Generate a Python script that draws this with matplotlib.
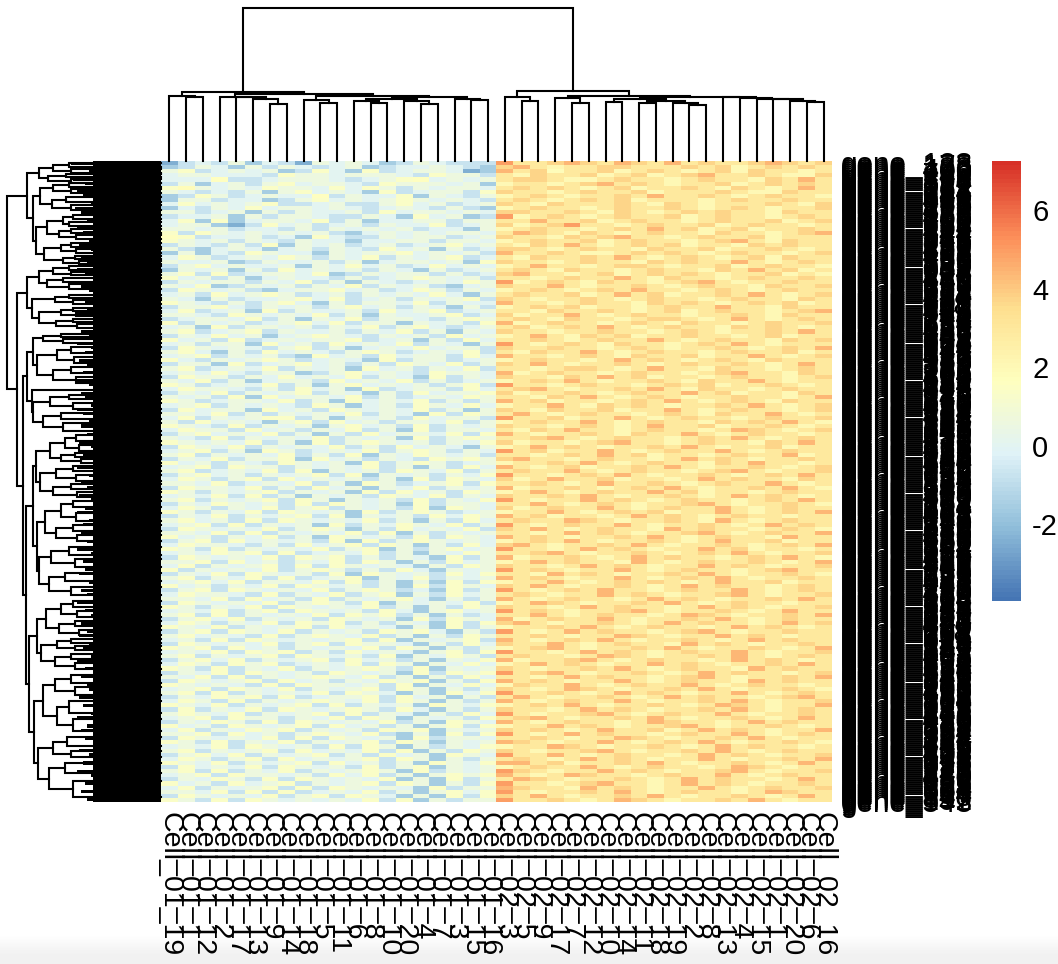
import matplotlib
matplotlib.use("Agg")
import matplotlib.pyplot as plt
import numpy as np
from matplotlib.colors import LinearSegmentedColormap, Normalize

plt.rcParams["font.family"] = ["Liberation Sans", "DejaVu Sans"]

W, H = 1058, 964

# one hex char per cell, looked up in levels
levels = [-2.8, -2.4, -1.6, -0.8, 0.0, 0.6, 1.4, 1.6, 1.8, 2.2, 2.0, 2.9, 3.7, 4.4, 4.9, 5.6]

# left 20 columns
rows_left = [
"13435243154542354333","23542535434523445432","56345452364263455412","45544436554555436553",
"44473345554345674545","35245356455436555452","68545465546465354554","54343525645426345536",
"23653454473544625435","25534423564545654543","46454563345335645345","24354645545434543532",
"55345253544536455454","34452535543354264523","46262455463524455355","45521364534535446345",
"55453443535454534425","63654545453245454554","76344534264335455345","65453543544244553554",
"35435362545345345645","53245424535436452534","25243654425455645453","46534546535463545634",
"54452354453524554526","35645445254645346454","25452536454535425345","56363455462354553534",
"64535245443534565453","35455354635254345465","54623545354635453245","36545324556453465354",
"45364565345354546425","54253445646345354563","65435356425355463544","35564354535645354253",
"46345263544536456345","55436545463525445634","34554635254635543565","63545345646355254536",
"45263554535463564345","56345635445354635254","35464524565435453645","64536345455634525364",
"45355264536454635425","36545435635245464553","56425364543565345463","45635453264536455364",
"64354565345426355345","35526345645353654635","56345463545264535463","45464355235645436554",
"36553546454635426354","54635245536454635345","65345463525645453563","46554353645263455364",
"35463545635425364556","54536264554635345465","65345546352645463535","45635454365245365464",
"36455264536545463525","55463535454635426365","46354566352545364553","53645425636453554635",
"65436354525645363545","46553645354635263554","35645463525364554636","54363545463545263565",
"65454635263565453546","36546354546353645425","45635265345463565354","56354546353625465453",
"35463556264535436565","64535436545263565345","45636553545463525364","56345463625453654635",
"35645354563625453546","46535636454535263654","55463454635265345636","36554635364525463545",
"65354563545263645365","45463635254536546354","56354563652545363546","35465453636545263554",
"46535463563545362654","65354636545263565345","35463545636254536465","56453636545463525364",
"45636354526354654635","36545463565253645463","55463635454636253545","64535463526545363654",
"35636454536263565454","46554353645636525364","65363545463562535645","45465636345463525465",
"36545463656353542635","55636453546365253645","46354563636545425365","63545463565353642545",
"35463654536265453646","56354636345625463545","45646355463635252636","64535463654535263654",
"35636545463565342635","46554363546356253645","55463645363545642535","36545463565362545463",
"65354636545463525365","45463563654536425645","56363545463656352534","35646354536545263654",
"46535463656353542636","65463545636454252635","35636546354536564253","56454363565463525365",
"45363654545636254563","36545463563655425364","65636453545463652535","45463656353645425636",
"56354563654536254653","35646354563645352546","46536563454636525464","65363546354565362545",
"35463654536545263656","54636354565463525364","36545636453546562536","65454363655453625464",
"45636546354563652535","56363545463654252646","35465636345563645253","46536354565463652535",
"65463545636354526546","36354636545653642535","56546354563635425364","45636553546365254536",
"35465363654546352654","64536545636453525636","46354656354536562545","55636453565463252636",
"36545463636545263554","65363546354563652545","45463654536365253546","56354563645463625365",
"35646354563536452654","46535636454563652535","65463545636453526546","36454636545363562545",
"56363546354565263545","45636554536463525656","35465363654546252635","64536456354563652536",
"46354563636545426355","55463636345463525646","36545463563654252636","65363654545463625355",
]

# right 20 columns
rows_right = [
"ebbcdcbdcbdbcbbcdcbc","cdb9bbccbbbcbcabcbcb","dbc8bbcabcbabcacbbab","bacbbcabcabcdbbcbaac",
"bccbaabcbbabcbbacbdb","abbabcdbcbabbcabcbcb","bcbcbabcabbcbacbabdb","cbbabcbbcabbbcbaacbb",
"abcbabbcbdbbcbabcbba","bcbabcbcabbbabcbbcbb","cbacbbbcbacbabbbcbac","abcbbabcbbcbabcbabbc",
"ccbbcbacbabcbcbbacbb","eabcbabcbbcabcbbabcb","bbdbbcabcbbabcbbcabc","cabcebbabcbbcabcbbab",
"abcbbabcbdbcabcabbcb","bdcbacbabcbbacbbabcd","cbbacbcdbbabcbbcabbb","abcbbcabcbbabcdbacbb",
"bacbdbabcbcabbacbcbb","ccbabcbbacbbcabbcbab","dbbcbaabcbcbabcbbabc","bacbbcbdbabcbabcacbb",
"cbbabcbbacbcbbdbabcb","abdbbabccbabbcabcbba","bcbacbbabcbbacbdbcab","cdbbabcabcbcbabbcaba",
"bbabcbbdbacbbabcbbcb","eabcbacbbabcdbabbcbb","cbbdbabbcbabcbbacbbc","abcbabcbdbbabcbabcbb",
"bcbbcabdbcabbcbdbabc","cbabbcbabcbbabcbbacb","dbbabcbbacbcbabcbcab","abcbcabbabcbbdbbacbb",
"bbacbbcbabcabcbbabcd","cabbdbabcbbabbcbacbb","bcbacbbabccbabdbabcb","dabcbbabcbacbbabcbbc",
"bcabcbdbabcbbacbcbab","cbbabbcbbabcbabbcbdb","abdbacbcabbcbbabcabb","bbcbabcbbdbabcbbacbc",
"ebabcbacbbabcbdbabbb","cbbcbbabcbabbcbabcbd","bacbbdbabcbbabcbbcab","dbbabcbacbbcabbdbabc",
"abcbbabdbcbabcbacbbb","cbdbabbcbabcbbcbabdb","bbabccbabdbbacbbabcb","dabcbbabcbbabcdbbacb",
"cbbacbdbcabbabcbbabc","abcbdbabbcbacbbdbabb","ebbabcbbabcbcabbcbab","bcdbabbcbdbacbbabcbb",
"cabbcbabcbbdbcabbacb","bbacbdbabcbabbcbbabd","dbcabbabcbdbabcbacbb","abbdbacbcbabbcbdbabc",
"cbacbbcabbdbabcbbabc","bdbabcbbabcbacbbdbab","ebbcabbdbabcbbabcbbc","abcbbdbabcbbacbcbdba",
"cbbabcbabdbbcabbcbab","bacbdbbabcbbabdcbabc","dbabbcbacbbdbabcbbab","bbcdbabcbbabcbdbabcb",
"cabbabcdbbabcbbacbdb","abdbcbabbcbdbabbcabb","ebcabbdbabcbbdbabcbb","bbabcbdbcabbabcbbdab",
"cdbbabcbbabdbcbabbcb","abbcbdbabcbbacbdbbab","dbabcabbcbdbabbcbabc","bcbbdbabcbbabcdbabbc",
"ebbabcbdbabbcbabcbdb","cabdbbcabbabdbcbbacb","bbcbabdbbcbabcbbdbab","dabbcbabcbdbabbcbdba",
"abdbabcbbdbcabbabcbb","cbbcbdbabbcbabdbcbab","ebabbdbcbabcbbabcbdb","bbdbabcbabbcdbabbcba",
"cabcbbdbabcbbdbabcbb","abbdbabcbcabbdbabcbd","dbcabbabdbcbabcbbabb","bcbbdcbabbcbadbabcbb",
"ebabcbbdbabbcbabdbcb","cbdbabcbbadbcbbabcba","bbabdbcbabbcdbabcbbd","dbcbabbcbdbabcbbadbb",
"abcbdbabbcbabdbbcabb","cdbabbcbdbabbcbabcbd","ebbabdbcbabbdbcabbab","bbcdbabbcbabcbdbabbc",
"dabbcbabdbcbbabcbdba","abdbcbbadbabcbbcbabd","cbbabdbcbabbdbcbabbc","ebcbabbdbabcbbabcdbb",
"bbadbcbabbcbdbabbcba","dbcbabbdbabcbdbabbcb","abbdbabcbcbabdbbcabb","cbdbabbcbabdbcbbabcb",
"ebabcbdbbabcbbdbabcb","bcbabbdbcbabbcdbabbc","dbabcbbabdbcbabbcbdb","abdcbabbcbdbabcbbabb",
"cbbabdbcbbabdbcbabbc","ebcbabbcdbabbcbabdbb","bbdbabcbbabdcbabbcbd","dabcbbdbabbcbdbabcbb",
"cdbabbcbabdbcbbabdbc","abbcbdbabcbbabdbcbab","ebabdbcbbabcdbabbcbb","bbcbabbdcbabbdbcbabb",
"dbabcbdbabbcbabdbcbb","cbbdbabcbbadbcbabbcb","abcdbabbcbdbabbcbabd","ebbabdbcbabcbbdbabbc",
"bcbbabdcbabbcbdbabcb","dabbcdbabcbbabdbcbab","abdbcbabbdbcbabbcbdb","cbabbcbdbabcbbadbcbb",
"ebcdbabbcbabdbcbbabc","bbabdbcbbabcdbabbcbd","dbcbabbdbabcbbadbcbb","acbbdbabcbbdbabcbbab",
"cbabdcbabbcbdbabbcba","ebbcbabdbcbabbdbabcb","bdbabbcbabdbcbbabcdb","dbabcbbdbabbcbdbabbc",
"abcbdbabbcbabdcbabbd","cbbabdbcbabbcbdbabcb","ebabbcdbabcbbdbabbcb","bcdbabbcbdbabbcbabdb",
"dbabcbbabdcbbabdbcbb","abbdbcbabbcdbabbcbab","cbcbabdbbcabdbcbabbd","ebabdbcbbabcbbdbabcb",
"bbcbabbdcbabbcbdbabb","dcbabbdbabcbdbabbcba","abbdcbabbcbabdbcbbab","cbabbcdbabbcbdbabcbb",
"ebbdbabcbbabdbcbabbc","bcbabdbcbabbdbabbcbd","ddbcabbcbdbabbcbabdb","abcbbdbabcbbabdcbabb",
"ecbabbdbcbabbcdbabbc","dbabdcbbabcbbdbabcbb","bdcbabbcbabdbcbbabdb","ebbabcdbbabdbcbabbcb",
"dcbbadbcbabbdbabcbbc","ebabbcbdbabcbbabdcbb","cbdbabbcbdbabbcbabdb","ebbcbabdcbabbcbdbabb",
"dabdbcbbabcdbabbcbab","ebcbabbdbabcbbdbabcb","cbbadbcbabbcbdbabbcd","dbabcbbdcbabbabdbcbb",
]

column_groups = ["01"] * 20 + ["02"] * 20
column_numbers = [19, 1, 12, 2, 17, 13, 9, 14, 18, 5, 11, 6, 8, 10, 20, 4, 7, 3, 15, 16,
                  3, 5, 9, 17, 7, 12, 10, 14, 11, 18, 19, 2, 8, 13, 4, 15, 1, 20, 6, 16]

gene_ids = [
123, 183, 103, 246, 378, 512, 167, 294, 631, 408, 155, 772, 329, 486, 210, 653, 197, 344, 528, 816,
262, 419, 708, 135, 593, 381, 947, 226, 470, 168, 352, 689, 214, 537, 806, 143, 425, 761, 298, 614,
179, 356, 842, 503, 271, 694, 138, 427, 585, 319, 762, 206, 493, 651, 384, 127, 915, 248, 576, 430,
189, 367, 724, 502, 283, 646, 159, 438, 871, 325, 597, 216, 743, 480, 362, 129, 658, 294, 817, 543,
175, 406, 739, 268, 594, 331, 862, 147, 520, 685, 213, 478, 956, 302, 637, 184, 429, 571, 346, 798,
251, 613, 488, 136, 725, 359, 904, 272, 546, 193, 681, 324, 457, 839, 118, 602, 375, 744, 229, 561,
483, 196, 827, 354, 670, 241, 518, 933, 165, 392, 756, 304, 629, 187, 445, 873, 216, 538, 691, 352,
124, 467, 785, 239, 506, 648, 313, 971, 176, 422, 859, 285, 534, 607, 348, 192, 726, 451, 683, 120,
]

# left edge of the black leaf mass, one value per row band (distance from the heatmap)
black_depth = [
90, 82, 72, 60, 88, 76, 62, 84, 78, 64, 70, 86, 80, 66, 74, 60, 84, 78, 66, 72,
82, 70, 62, 80, 74, 64, 84, 76, 58, 70, 80, 72, 64, 82, 76, 60, 74, 84, 68, 78,
62, 80, 72, 64, 84, 70, 76, 60, 82, 74, 66, 78, 64, 84, 72, 58, 80, 76, 66, 70,
84, 78, 62, 72, 80, 66, 74, 60, 82, 70, 64, 78, 76, 58, 84, 68, 72, 62, 80, 74,
66, 82, 70, 60, 76, 84, 64, 72, 78, 62, 80, 68, 74, 58, 84, 70, 66, 78, 62, 76,
82, 64, 72, 60, 80, 74, 68, 84, 62, 76, 70, 58, 80, 66, 74, 82, 62, 72, 78, 64,
70, 84, 60, 76, 68, 80, 62, 74, 72, 58, 82, 66, 78, 64, 70, 84, 60, 74, 80, 62,
76, 68, 58, 82, 72, 64, 78, 60, 84, 70, 66, 76, 62, 80, 58, 74, 68, 82, 64, 90,
]
solid_depth = 68

# column tree: (merge height, left, right), leaves are column numbers
tree_a = (65.3, 1, (64.3, 2, 3))
tree_b = (64.0, 4, (63.7, 5, (61.7, 6, (57.0, 7, 8))))
tree_d = (61.3, 9, (58.3, 10, 11))
tree_e = (62.3, (60.3, 12, (58.3, 13, 14)), (60.3, 15, (57.0, 16, 17)))
tree_f = (62.3, 18, (61.3, 19, 20))
tree_left = (68.7, tree_a, (66.7, tree_b, (65.0, tree_d, (63.7, tree_e, tree_f))))
tree_g = (64.0, 21, (59.7, 22, 23))
tree_i = (63.0, 24, (58.3, 25, 26))
tree_km = (61.7, (59.3, 27, 28), (60.0, (57.7, 29, 30), (58.3, 31, (56.3, 32, 33))))
tree_tail = (64.0, 34, (63.3, 35, (62.3, 36, (61.7, 37, (60.0, 38, (58.7, 39, 40))))))
tree_right = (70.3, tree_g, (65.0, tree_i, (64.3, tree_km, tree_tail)))
col_tree = (153.0, tree_left, tree_right)

# row tree: same form, leaves are positions down the heatmap
row_t1 = (134,
    (122, (108, (92, 2, 6), (90, 8, 12)), (113, (95, 13, 16), (90, 18, 22))),
    (128,
        (121, (108, (92, 22, 26), (90, 28, 32)), (109, (95, 36, 41), (90, 44, 49))),
        (125,
            (114, (98, (88, 54, 58), (92, 61, 65)), (102, (90, 68, 72), (85, 74, 78))),
            (117, (100, (90, 82, 86), (85, 88, 92)), (98, (86, 95, 98), (82, 100, 103))))))
row_u = (134,
    (122, (108, (92, 105, 109), (90, 111, 114)), (114, (98, 117, 121), (92, 123, 128))),
    (129, (106, (92, 134, 137), (88, 139, 143)),
        (122, (100, (88, 147, 150), (85, 152, 155)), (105, (88, 158, 161), (84, 163, 167)))))
row_y1 = (134,
    (128, (118, (100, 173, 176), (98, 178, 182)),
        (124, (104, (90, 186, 192), (87, 196, 202)), (108, (90, 206, 212), (85, 216, 222)))),
    (129, 229,
        (128, (111, (92, 234, 238), (88, 242, 248)), (118, (100, 252, 258), (98, 262, 270)))))
row_y2 = (135,
    (128,
        (125,
            (111, (96, (85, 274, 280), (82, 284, 290)), (100, (86, 292, 296), (80, 298, 302))),
            (121, (105, (88, 305, 310), (85, 314, 320)), (108, (90, 323, 328), (84, 331, 336)))),
        (124,
            (116, (100, (88, 340, 346), (85, 352, 360)), (105, (88, 364, 370), (84, 374, 380))),
            (122, (110, (92, 386, 394), (86, 398, 406)), (112, (96, 412, 420), (90, 426, 434))))),
    (132,
        (124,
            (115, (100, (88, 440, 446), (84, 450, 456)), (102, (86, 460, 465), (82, 469, 474))),
            (120, (104, (90, 478, 482), (86, 485, 489)), (106, (90, 493, 498), (86, 502, 508)))),
        (127,
            (118, (106, (90, 514, 522), (86, 526, 534)), (104, (92, 540, 552), (88, 558, 570))),
            (123, (108, (94, 576, 585), (90, 590, 596)), (112, (96, 602, 612), (88, 620, 636))))))
row_tree = (154, row_t1, (144, row_u, (138, row_y1, row_y2)))

legend_ticks = [-2, 0, 2, 4, 6]
value_min, value_max = -3.96, 7.25
palette = ["#4575B4", "#91BFDB", "#E0F3F8", "#FFFFBF", "#FEE090", "#FC8D59", "#D73027"]


def px_axes(left, top, right, bottom):
    return fig.add_axes([left / W, 1 - bottom / H, (right - left) / W, (bottom - top) / H])


def draw_tree(ax, node, vertical, leaf_pos):
    # returns position and height of node, draws its two legs and the bar
    if not isinstance(node, tuple):
        return leaf_pos(node), 0
    h, a, b = node
    pa, ha = draw_tree(ax, a, vertical, leaf_pos)
    pb, hb = draw_tree(ax, b, vertical, leaf_pos)
    xs, ys = [pa, pa, pb, pb], [ha, h, h, hb]
    if vertical:
        ax.plot(xs, ys, color="black", lw=1.5, solid_joinstyle="miter", clip_on=False)
    else:
        ax.plot(ys, xs, color="black", lw=1.5, solid_joinstyle="miter", clip_on=False)
    return (pa + pb) / 2, h


fig = plt.figure(figsize=(W / 100, H / 100), dpi=100)

# grey fade along the bottom of the screenshot
ax_fade = px_axes(0, 925, W, H)
ax_fade.imshow([[1.0], [0.945]], cmap="gray", vmin=0, vmax=1, aspect="auto", interpolation="bilinear")
ax_fade.axis("off")

cmap = LinearSegmentedColormap.from_list("rdylbu", palette, N=100)
norm = Normalize(value_min, value_max)

matrix = np.array([[levels[int(c, 16)] for c in (a + a)[:20] + (b + b)[:20]]
                   for a, b in zip(rows_left, rows_right)])
n_rows, n_cols = matrix.shape

ax_heat = px_axes(161, 161, 832, 802)
ax_heat.imshow(matrix, cmap=cmap, norm=norm, aspect="auto", interpolation="nearest",
               extent=(0, n_cols, n_rows, 0))
ax_heat.axis("off")

for i, (group, num) in enumerate(zip(column_groups, column_numbers)):
    ax_heat.annotate(f"Cell_{group}_{num}", xy=(i + 0.5, 0), xycoords=("data", "axes fraction"),
                     xytext=(0, -7), textcoords="offset points", rotation=270,
                     ha="center", va="top", fontsize=20.5, annotation_clip=False)

# two labels per band so the glyphs smear into solid columns as they do in the original
for i in range(n_rows):
    for frac, gene in ((0.25, gene_ids[i]), (0.75, gene_ids[(i + 80) % n_rows])):
        ax_heat.annotate(f"gene_{gene}", xy=(1, i + frac), xycoords=("axes fraction", "data"),
                         xytext=(6.5, -8), textcoords="offset points",
                         ha="left", va="baseline", fontsize=21.4, annotation_clip=False)

ax_top = px_axes(161, 0, 832, 161)
draw_tree(ax_top, col_tree, True, lambda c: c - 0.5)
ax_top.set_xlim(0, n_cols)
ax_top.set_ylim(0, 161)
ax_top.axis("off")

ax_side = px_axes(0, 161, 161, 802)
band = 641 / n_rows
centers = (np.arange(n_rows) + 0.5) * band
ax_side.barh(centers, [solid_depth] * n_rows, height=band, color="black", linewidth=0)
ax_side.barh(centers, black_depth[:n_rows], height=band * 0.75, color="black", linewidth=0)
draw_tree(ax_side, row_tree, False, lambda p: p)
ax_side.set_xlim(161, 0)
ax_side.set_ylim(641, 0)
ax_side.axis("off")

ax_leg = px_axes(992, 161, 1021, 601)
scale = np.linspace(value_max, value_min, 100).reshape(-1, 1)
ax_leg.imshow(scale, cmap=cmap, norm=norm, aspect="auto", interpolation="nearest",
              extent=(0, 1, value_min, value_max))
ax_leg.set_xticks([])
ax_leg.yaxis.tick_right()
ax_leg.set_yticks(legend_ticks, [str(t) for t in legend_ticks])
ax_leg.tick_params(axis="y", length=0, pad=8, labelsize=21)
for label in ax_leg.get_yticklabels():
    label.set_verticalalignment("center_baseline")
for s in ax_leg.spines.values():
    s.set_visible(False)

fig.savefig("out.png", dpi=100)
